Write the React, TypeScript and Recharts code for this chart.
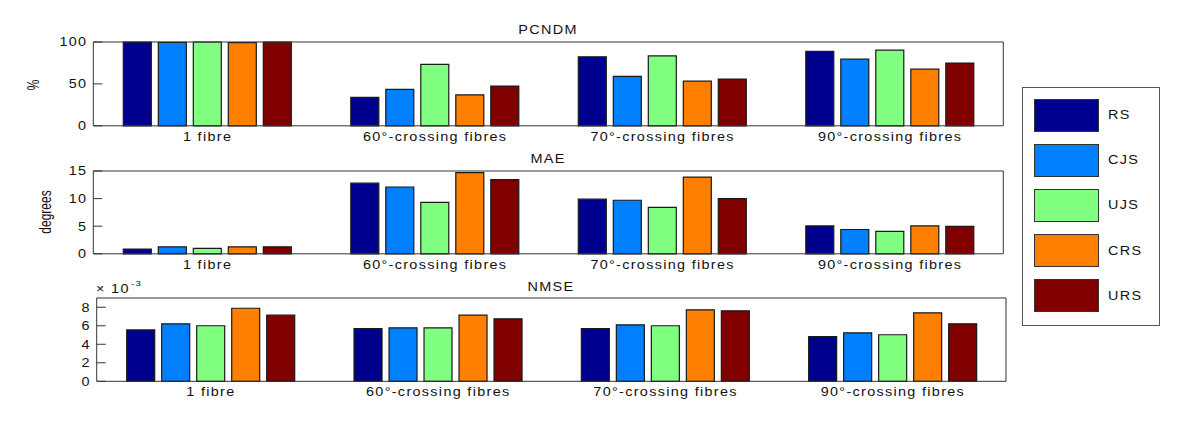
import React from 'react'
import { BarChart, Bar, XAxis, YAxis } from 'recharts'

const groups = ['1 fibre', '60°-crossing fibres', '70°-crossing fibres', '90°-crossing fibres']
const methods = ['RS', 'CJS', 'UJS', 'CRS', 'URS']
const methodColors = ['#00008f', '#0080ff', '#80ff80', '#ff8000', '#800000']

// PCNDM (%)
const pcndmRS = [100, 34, 82.4, 88.9]
const pcndmCJS = [99.5, 43.5, 59, 79.5]
const pcndmUJS = [100, 73.4, 83.4, 90.2]
const pcndmCRS = [99.3, 37, 53.2, 67.6]
const pcndmURS = [100, 47.4, 55.8, 74.9]

// MAE (degrees)
const maeRS = [0.85, 12.8, 9.9, 5.06]
const maeCJS = [1.27, 12.1, 9.7, 4.4]
const maeUJS = [0.98, 9.3, 8.4, 4.05]
const maeCRS = [1.27, 14.7, 13.9, 5.06]
const maeURS = [1.27, 13.45, 10.0, 4.95]

// NMSE
const nmseRS = [0.00555, 0.0057, 0.0057, 0.00484]
const nmseCJS = [0.00621, 0.00578, 0.0061, 0.00524]
const nmseUJS = [0.006, 0.00578, 0.006, 0.00503]
const nmseCRS = [0.00789, 0.00714, 0.00772, 0.0074]
const nmseURS = [0.00714, 0.00675, 0.00761, 0.00621]

const pcndmTicks = [0, 50, 100]
const maeTicks = [0, 5, 10, 15]
const nmseTicks = [0, 0.002, 0.004, 0.006, 0.008]

function buildRows(series: number[][]) {
  return groups.map((g, i) => {
    const row: Record<string, string | number> = { group: g }
    methods.forEach((m, j) => { row[m] = series[j][i] })
    return row
  })
}

const FONT = '"Liberation Sans", Arial, Helvetica, sans-serif'
const STRETCH = 1.2
const LS = 1.1
const AXIS = '#333'
const TXT = '#111'
const CHART_W = 1020

function XTick({ x, y, payload }: any) {
  return (
    <text transform={`translate(${x + LS / 2},${y + 15}) scale(${STRETCH},1)`} textAnchor="middle"
      fontSize={12} fontFamily={FONT} fill={TXT} letterSpacing={LS}>
      {payload.value}
    </text>
  )
}

function makeYTick(fmt: (v: number) => string) {
  return ({ x, y, payload }: any) => (
    <text transform={`translate(${x + LS},${y}) scale(${STRETCH},1)`} textAnchor="end" dy="0.36em"
      fontSize={12} fontFamily={FONT} fill={TXT} letterSpacing={LS}>
      {fmt(payload.value)}
    </text>
  )
}

interface PanelProps {
  rows: Record<string, string | number>[]
  plot: { l: number; r: number; t: number; b: number }
  domain: [number, number]
  ticks: number[]
  fmt: (v: number) => string
}

function Panel({ rows, plot, domain, ticks, fmt }: PanelProps) {
  const svgTop = plot.t - 12
  const h = plot.b - plot.t + 12 + 30
  const YTick = makeYTick(fmt)
  return (
    <div style={{ position: 'absolute', left: 0, top: svgTop }}>
      <BarChart width={CHART_W} height={h} data={rows} barGap={7}
        margin={{ top: 11, right: CHART_W - plot.r - 1, left: 0, bottom: 5 }}>
        <XAxis xAxisId="bottom" dataKey="group" tick={<XTick />} tickLine={false} tickSize={0}
          tickMargin={0} interval={0} height={25} axisLine={{ stroke: AXIS }} />
        <XAxis xAxisId="top" orientation="top" dataKey="group" tick={false} tickSize={-5}
          height={1} interval={0} axisLine={{ stroke: AXIS }} tickLine={{ stroke: AXIS }} />
        <YAxis yAxisId="left" width={plot.l} domain={domain} ticks={ticks} type="number"
          tick={<YTick />} tickSize={-9} tickMargin={16} axisLine={{ stroke: AXIS }}
          tickLine={{ stroke: AXIS }} interval={0} />
        <YAxis yAxisId="right" orientation="right" width={1} domain={domain} ticks={ticks}
          type="number" tick={false} tickSize={-9} axisLine={{ stroke: AXIS }}
          tickLine={{ stroke: AXIS }} interval={0} />
        {methods.map((m, j) => (
          <Bar key={m} dataKey={m} xAxisId="bottom" yAxisId="left" fill={methodColors[j]}
            stroke="#1a1a1a" strokeWidth={1.2} barSize={28} isAnimationActive={false} />
        ))}
      </BarChart>
    </div>
  )
}

function Label({ x, y, text, rotate }: { x: number; y: number; text: string; rotate?: boolean }) {
  return (
    <div style={{
      position: 'absolute', left: x, top: y, fontSize: 12, lineHeight: 1, whiteSpace: 'nowrap',
      letterSpacing: rotate ? 0 : LS,
      transform: `translate(-50%,-50%) scaleX(${rotate ? 1.4 : STRETCH})${rotate ? ' rotate(-90deg)' : ''}`,
    }}>{text}</div>
  )
}

export default function App() {
  const p1 = { l: 93.3, r: 1003.3, t: 41.7, b: 125.5 }
  const p2 = { l: 93.3, r: 1003.3, t: 170.7, b: 253.5 }
  const p3 = { l: 96.7, r: 1006, t: 297.7, b: 381 }
  return (
    <div style={{ position: 'absolute', left: 0, top: 0, width: 1179, height: 429, background: '#fff', fontFamily: FONT, color: TXT }}>
      <Panel rows={buildRows([pcndmRS, pcndmCJS, pcndmUJS, pcndmCRS, pcndmURS])} plot={p1}
        domain={[0, 100]} ticks={pcndmTicks} fmt={v => String(v)} />
      <Panel rows={buildRows([maeRS, maeCJS, maeUJS, maeCRS, maeURS])} plot={p2}
        domain={[0, 15]} ticks={maeTicks} fmt={v => String(v)} />
      <Panel rows={buildRows([nmseRS, nmseCJS, nmseUJS, nmseCRS, nmseURS])} plot={p3}
        domain={[0, 0.009]} ticks={nmseTicks} fmt={v => String(Math.round(v * 1000))} />

      <Label x={(p1.l + p1.r) / 2} y={30} text="PCNDM" />
      <Label x={(p2.l + p2.r) / 2} y={159} text="MAE" />
      <Label x={(p3.l + p3.r) / 2} y={286.5} text="NMSE" />
      <Label x={33} y={85} text="%" rotate />
      <Label x={45} y={212} text="degrees" rotate />

      <div style={{ position: 'absolute', left: 96, top: 283, fontSize: 12, lineHeight: 1, whiteSpace: 'nowrap', letterSpacing: LS, transform: `scaleX(${STRETCH})`, transformOrigin: 'left top' }}>
        × 10<span style={{ fontSize: 8, position: 'relative', top: -7, marginLeft: 1 }}>-3</span>
      </div>

      <div style={{ position: 'absolute', left: 1021.5, top: 86.5, width: 138, height: 239, border: '1px solid #555', boxSizing: 'border-box' }}>
        {methods.map((m, j) => (
          <React.Fragment key={m}>
            <div style={{ position: 'absolute', left: 11, top: 11 + j * 45.2, width: 65, height: 33, background: methodColors[j], border: '1px solid #333', boxSizing: 'border-box' }} />
            <div style={{ position: 'absolute', left: 85, top: 11 + j * 45.2 + 16.5, fontSize: 12, lineHeight: 1, letterSpacing: LS, transform: `translateY(-50%) scaleX(${STRETCH})`, transformOrigin: 'left center' }}>{m}</div>
          </React.Fragment>
        ))}
      </div>
    </div>
  )
}
